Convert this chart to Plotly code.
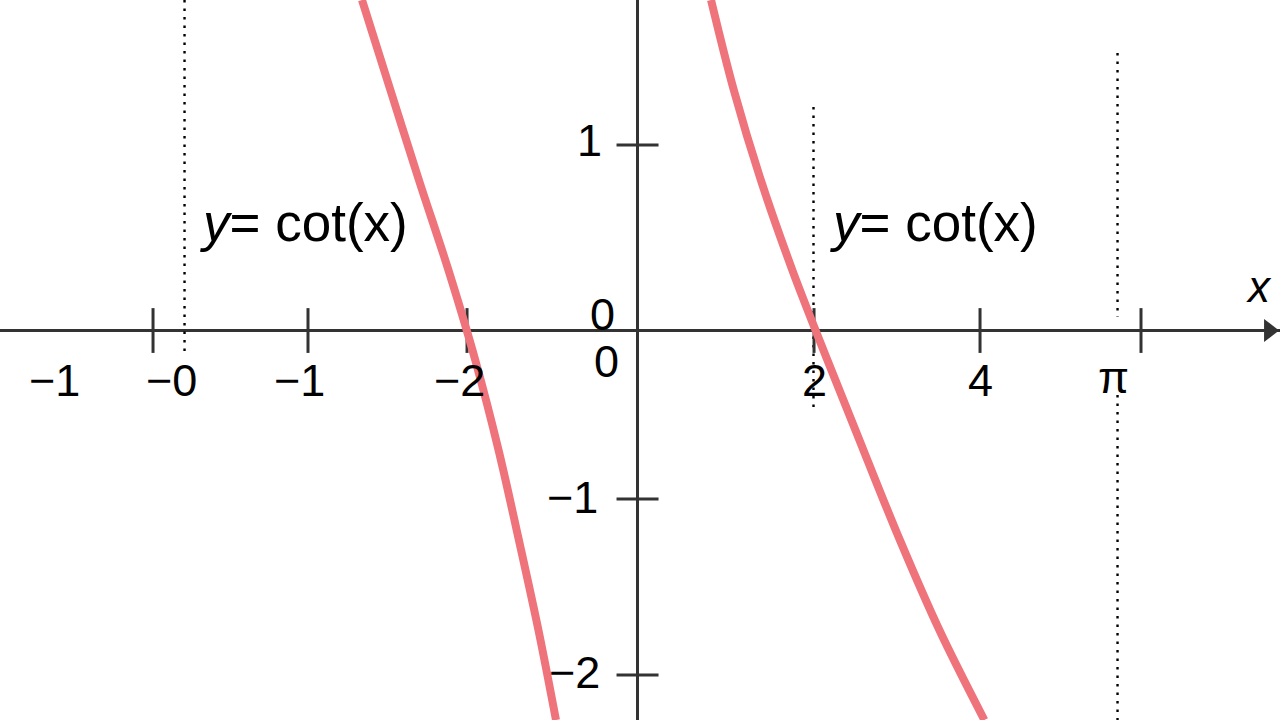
import plotly.graph_objects as go

# axis window (1 x-unit ~ 88 px, 1 y-unit ~ 185 px in the picture)
x_range = [-7.224, 7.280]
y_range = [-2.100, 1.782]

# the two red branches, read every ~90 px down the picture
branch_y = [1.782, 1.296, 0.811, 0.326, -0.159, -0.644, -1.129, -1.615, -2.100]
left_x = [-3.122, -2.800, -2.477, -2.143, -1.839, -1.575, -1.345, -1.123, -0.924]
right_x = [0.833, 1.091, 1.397, 1.754, 2.151, 2.559, 2.972, 3.420, 3.930]

# dotted vertical guides (x, top, bottom)
guide_x = [-5.133, 1.994, 5.439, 5.439]
guide_top = [1.782, 1.205, 1.496, -0.348]
guide_bottom = [-0.116, -0.418, 0.073, -2.100]

# ticks and their labels
tick_x = [-5.490, -3.734, -1.932, 2.0, 3.881, 5.705]
tick_y = [1.0, -0.908, -1.857]

xlab_text = ["−1", "−0", "−1", "−2", "0", "2", "4", "π"]
xlab_x = [-6.612, -5.286, -3.836, -2.023, -0.346, 2.0, 3.881, 5.388]
xlab_y = [-0.267, -0.267, -0.267, -0.267, -0.165, -0.267, -0.267, -0.256]

ylab_text = ["0", "1", "−1", "−2"]
ylab_x = [-0.232, -0.380, -0.425, -0.402]
ylab_y = [0.085, 1.027, -0.898, -1.846]

eq_x = [-4.980, 2.159]
eq_y = [0.58, 0.58]

axis_col = '#333333'
curve_col = '#ef737b'
font = 'Liberation Sans, Arial, sans-serif'

fig = go.Figure()

# dotted guides
gx, gy = [], []
for x, t, b in zip(guide_x, guide_top, guide_bottom):
    gx += [x, x, None]
    gy += [t, b, None]
fig.add_trace(go.Scatter(x=gx, y=gy, mode='lines',
                         line=dict(color='black', width=2.4, dash='2.5px,6px')))

# tick marks crossing the axes
fig.add_trace(go.Scatter(x=tick_x, y=[0] * len(tick_x), mode='markers',
                         marker=dict(symbol='line-ns', size=32,
                                     line=dict(color=axis_col, width=3))))
fig.add_trace(go.Scatter(x=[0] * len(tick_y), y=tick_y, mode='markers',
                         marker=dict(symbol='line-ew', size=30,
                                     line=dict(color=axis_col, width=3))))

# arrow head on x axis
fig.add_trace(go.Scatter(x=[7.156], y=[0], mode='markers', cliponaxis=False,
                         marker=dict(symbol='triangle-right', size=20, color=axis_col)))

# curves
for xs in [left_x, right_x]:
    fig.add_trace(go.Scatter(x=xs, y=branch_y, mode='lines', line_shape='spline',
                             line=dict(color=curve_col, width=8)))

ann = []
for t, x, y in zip(xlab_text, xlab_x, xlab_y):
    ann.append(dict(x=x, y=y, text=t, showarrow=False, xanchor='center', yanchor='middle',
                    font=dict(family=font, size=45, color='black')))
for t, x, y in zip(ylab_text, ylab_x, ylab_y):
    ann.append(dict(x=x, y=y, text=t, showarrow=False, xanchor='right', yanchor='middle',
                    font=dict(family=font, size=45, color='black')))
for x, y in zip(eq_x, eq_y):
    ann.append(dict(x=x, y=y, text='<i>y</i>= cot(x)', showarrow=False,
                    xanchor='left', yanchor='middle',
                    font=dict(family=font, size=53, color='black')))
ann.append(dict(x=7.042, y=0.235, text='<i>x</i>', showarrow=False,
                xanchor='center', yanchor='middle',
                font=dict(family=font, size=44, color='black')))

fig.update_layout(
    width=1280, height=720,
    margin=dict(l=0, r=0, t=0, b=0),
    plot_bgcolor='white', paper_bgcolor='white',
    showlegend=False,
    annotations=ann,
    xaxis=dict(range=x_range, showgrid=False, showticklabels=False, ticks='',
               zeroline=True, zerolinecolor=axis_col, zerolinewidth=3, fixedrange=True),
    yaxis=dict(range=y_range, showgrid=False, showticklabels=False, ticks='',
               zeroline=True, zerolinecolor=axis_col, zerolinewidth=3, fixedrange=True),
)

fig.write_html("out.html", config={'displayModeBar': False},
               post_script="document.body.style.margin='0';")
